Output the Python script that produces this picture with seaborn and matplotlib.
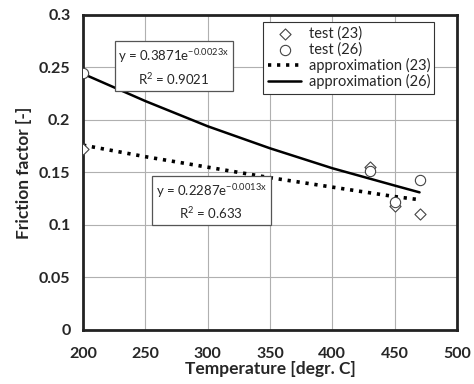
import matplotlib
matplotlib.use('Agg')
import matplotlib.pyplot as plt
import seaborn as sns
import pandas as pd

# measured points
temp_23 = [200, 430, 450, 470]
fric_23 = [0.172, 0.155, 0.118, 0.110]
temp_26 = [200, 430, 450, 470]
fric_26 = [0.245, 0.151, 0.122, 0.143]

# trendline values
fit_temp = [200, 250, 300, 350, 400, 450, 470]
fit_23 = [0.176, 0.165, 0.155, 0.145, 0.136, 0.127, 0.124]
fit_26 = [0.244, 0.218, 0.194, 0.173, 0.154, 0.1375, 0.131]

eq_23 = ('y = 0.2287e$^{-0.0013x}$', 'R$^2$ = 0.633')
eq_26 = ('y = 0.3871e$^{-0.0023x}$', 'R$^2$ = 0.9021')

x_ticks = [200, 250, 300, 350, 400, 450, 500]
y_ticks = [0, 0.05, 0.1, 0.15, 0.2, 0.25, 0.3]

sns.set_style('white')
plt.rcParams['font.family'] = ['Lato', 'DejaVu Sans']
plt.rcParams['mathtext.fontset'] = 'custom'
plt.rcParams['mathtext.rm'] = 'Lato'
plt.rcParams['mathtext.it'] = 'Lato'
plt.rcParams['mathtext.default'] = 'rm'

pts = pd.concat([
    pd.DataFrame({'T': temp_23, 'f': fric_23, 'series': 'test (23)'}),
    pd.DataFrame({'T': temp_26, 'f': fric_26, 'series': 'test (26)'}),
])
fits = pd.concat([
    pd.DataFrame({'T': fit_temp, 'f': fit_23, 'series': 'approximation (23)'}),
    pd.DataFrame({'T': fit_temp, 'f': fit_26, 'series': 'approximation (26)'}),
])

fig = plt.figure(figsize=(4.74, 3.84), dpi=100)
ax = fig.add_axes([0.175, 0.141, 0.789, 0.82])

sns.lineplot(data=fits[fits.series == 'approximation (23)'], x='T', y='f', ax=ax,
             color='black', lw=2.6, linestyle=(0, (0.9, 1.6)), label='approximation (23)')
sns.lineplot(data=fits[fits.series == 'approximation (26)'], x='T', y='f', ax=ax,
             color='black', lw=1.8, label='approximation (26)')
sns.scatterplot(data=pts[pts.series == 'test (23)'], x='T', y='f', ax=ax, marker='D',
                s=32, facecolor='white', edgecolor='#444444', linewidth=0.8, label='test (23)', zorder=4)
sns.scatterplot(data=pts[pts.series == 'test (26)'], x='T', y='f', ax=ax, marker='o',
                s=55, facecolor='white', edgecolor='#444444', linewidth=0.8, label='test (26)', zorder=4)

ax.set_xlim(200, 500)
ax.set_ylim(0, 0.3)
ax.set_xticks(x_ticks)
ax.set_yticks(y_ticks)
ax.set_yticklabels([f'{v:g}' for v in y_ticks])
ax.grid(True, color='#b0b0b0', lw=0.8)
ax.set_axisbelow(True)
for sp in ax.spines.values():
    sp.set_color('#222222')
    sp.set_linewidth(2)
ax.tick_params(axis='both', direction='out', length=4, width=0.8, color='#888888',
               labelsize=11.5)
ax.tick_params(axis='x', pad=8)
ax.tick_params(axis='y', pad=5)
for lab in ax.get_xticklabels() + ax.get_yticklabels():
    lab.set_fontweight('bold')
ax.set_xlabel('Temperature [degr. C]', fontsize=12.5, fontweight='bold', labelpad=0)
ax.set_ylabel('Friction factor [-]', fontsize=12.5, fontweight='bold', labelpad=5)

h, l = ax.get_legend_handles_labels()
order = [l.index(n) for n in ['test (23)', 'test (26)', 'approximation (23)', 'approximation (26)']]
leg = ax.legend([h[i] for i in order], [l[i] for i in order], loc='upper right',
                bbox_to_anchor=(0.94, 0.978), fontsize=10.5, frameon=True, fancybox=False,
                edgecolor='#333333', framealpha=1, borderpad=0.3, labelspacing=0.1,
                handlelength=2.3, handletextpad=0.5, borderaxespad=0)
leg.get_frame().set_linewidth(0.8)

box = dict(boxstyle='square,pad=0.3', facecolor='white', edgecolor='#555555', lw=0.9)
ax.text(273, 0.2505, eq_26[0] + '\n' + eq_26[1], ha='center', va='center',
        fontsize=9.5, bbox=box, linespacing=1.4, multialignment='center')
ax.text(303, 0.122, eq_23[0] + '\n' + eq_23[1], ha='center', va='center',
        fontsize=9.5, bbox=box, linespacing=1.4, multialignment='center')

fig.savefig('out.png', dpi=100)
